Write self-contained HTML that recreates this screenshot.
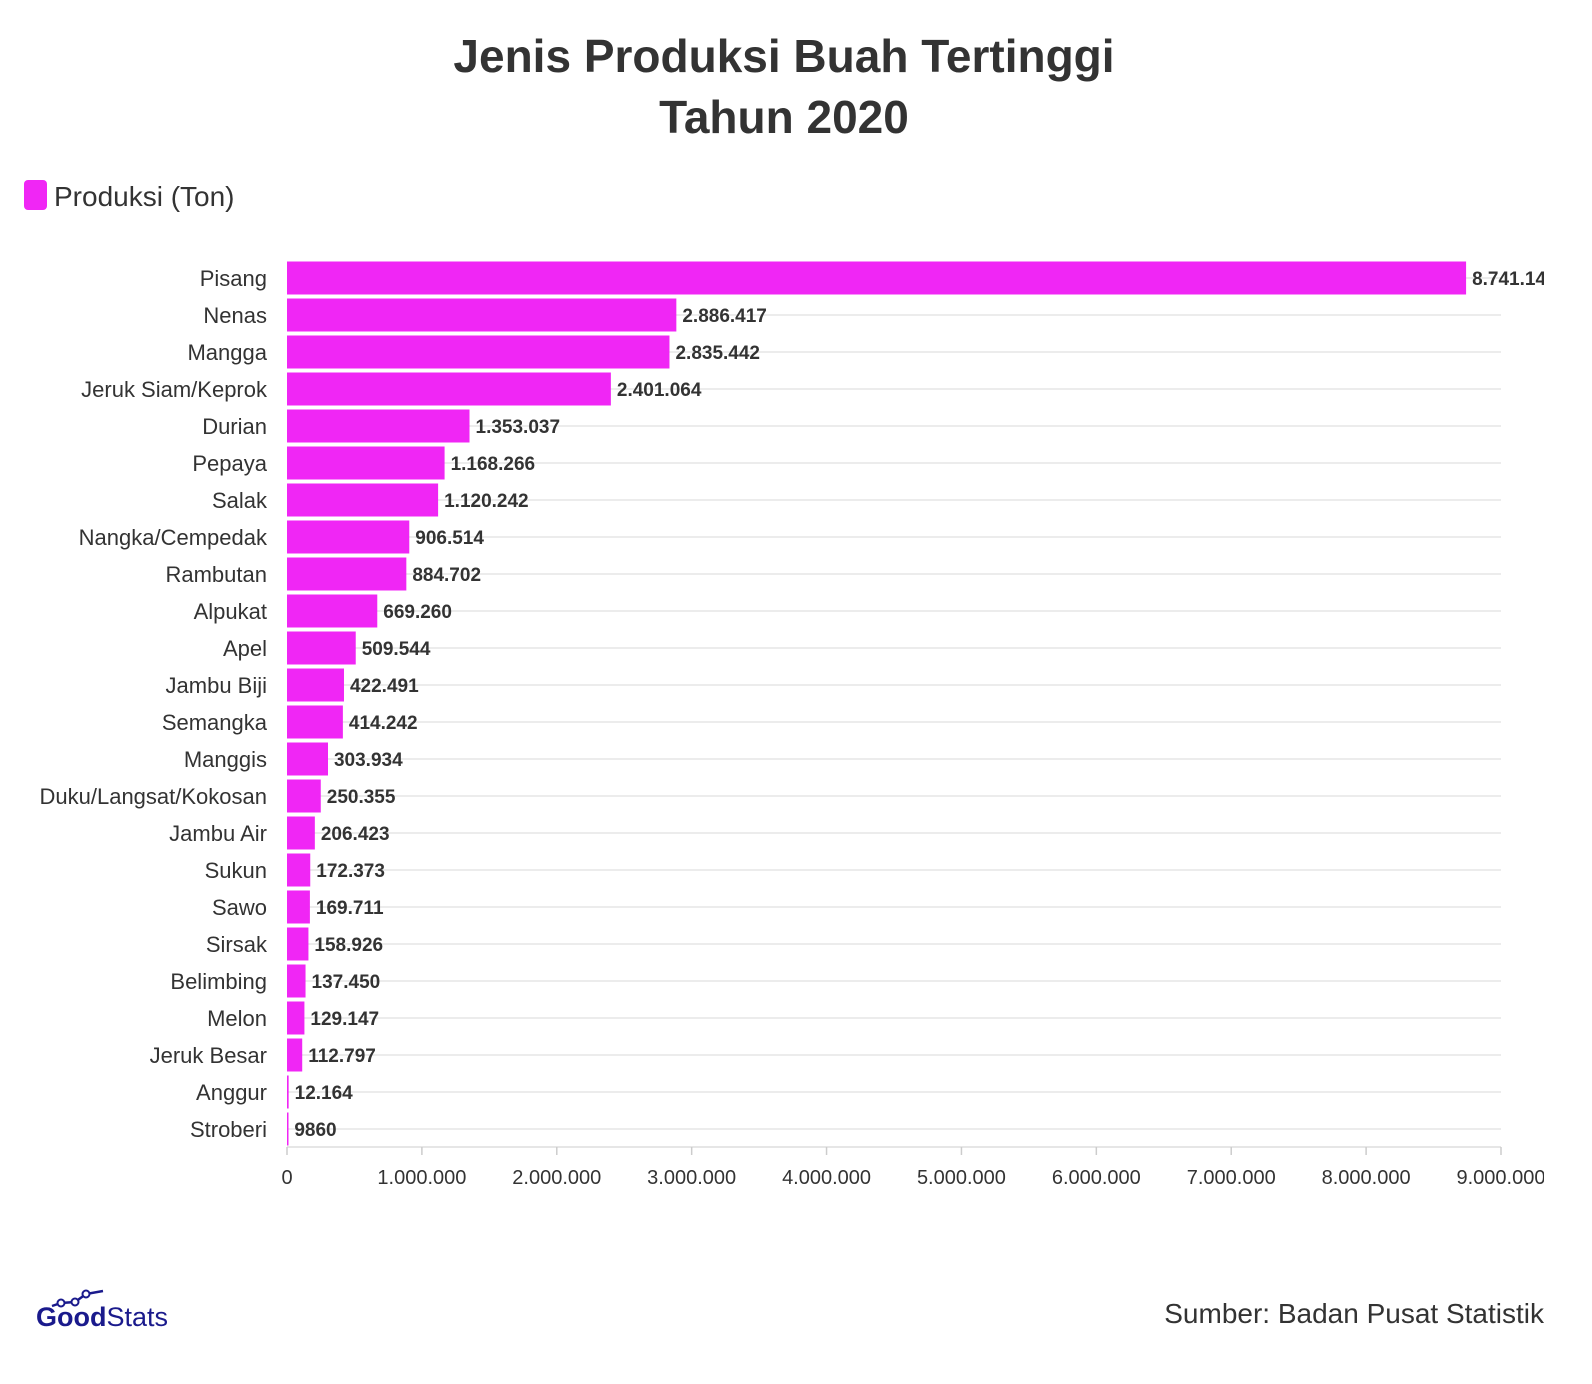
<!DOCTYPE html>
<html><head><meta charset="utf-8"><style>
body{margin:0;background:#fff;font-family:"Liberation Sans",sans-serif;}
#wrap{position:relative;width:1592px;height:1384px;overflow:hidden;}
#clip{position:absolute;left:0;top:0;width:1544px;height:1384px;overflow:hidden;}
</style></head><body>
<div id="wrap">
<div id="clip">
<svg id="svg" width="1592" height="1384" xmlns="http://www.w3.org/2000/svg">
<text x="784" y="72" text-anchor="middle" font-size="46" font-weight="bold" fill="#333">Jenis Produksi Buah Tertinggi</text>
<text x="784" y="133" text-anchor="middle" font-size="46" font-weight="bold" fill="#333">Tahun 2020</text>
<rect x="24" y="180" width="23" height="30" rx="4" fill="#f026f5"/>
<text x="54" y="206" font-size="28" fill="#333">Produksi (Ton)</text>
<g id="grid"></g><g id="bars"></g><g id="labels"></g><g id="ticks"></g>
<g>
<polyline points="52,1306 61,1303 75,1302 86,1294 103,1291" fill="none" stroke="#1a1a8c" stroke-width="2.5"/>
<circle cx="61" cy="1303" r="3.5" fill="#fff" stroke="#1a1a8c" stroke-width="2"/>
<circle cx="75" cy="1302" r="3.5" fill="#fff" stroke="#1a1a8c" stroke-width="2"/>
<circle cx="86" cy="1294" r="3.5" fill="#fff" stroke="#1a1a8c" stroke-width="2"/>
<text x="36" y="1326" font-size="27" font-weight="bold" fill="#1a1a8c">Good<tspan font-weight="normal">Stats</tspan></text>
</g>
<text x="1544" y="1323" text-anchor="end" font-size="28" fill="#333">Sumber: Badan Pusat Statistik</text>
</svg>
</div></div>
<script>
const categories=["Pisang","Nenas","Mangga","Jeruk Siam/Keprok","Durian","Pepaya","Salak","Nangka/Cempedak","Rambutan","Alpukat","Apel","Jambu Biji","Semangka","Manggis","Duku/Langsat/Kokosan","Jambu Air","Sukun","Sawo","Sirsak","Belimbing","Melon","Jeruk Besar","Anggur","Stroberi"];
const values=[8741147,2886417,2835442,2401064,1353037,1168266,1120242,906514,884702,669260,509544,422491,414242,303934,250355,206423,172373,169711,158926,137450,129147,112797,12164,9860];
const ticks=[0,1000000,2000000,3000000,4000000,5000000,6000000,7000000,8000000,9000000];
const NS="http://www.w3.org/2000/svg";
const x0=287,x1=1501,xmax=9000000,yTop=278,step=37,bh=33;
const xs=v=>x0+(x1-x0)*v/xmax;
const ys=i=>yTop+i*step;
const fmt=v=>v<10000?String(v):v.toLocaleString('de-DE');
function mk(t,a,p){const e=document.createElementNS(NS,t);for(const k in a)e.setAttribute(k,a[k]);document.getElementById(p).appendChild(e);return e;}
categories.forEach((c,i)=>{
 const g=mk('line',{x1:x0,x2:x1,y1:ys(i),y2:ys(i),stroke:'#e6e6e6','stroke-width':1.5},'grid');
 
 
 const b=mk('rect',{x:x0,y:ys(i)-bh/2,width:Math.max(1.5,xs(values[i])-x0),height:bh,fill:'#f026f5'},'bars');
 
 
 const l=mk('text',{x:x0-20,y:ys(i)+8,'text-anchor':'end','font-size':22,fill:'#333'},'labels');
 l.textContent=c;
 
 
 const v=mk('text',{x:Math.max(xs(values[i]),x0+1)+6,y:ys(i)+7,'font-size':19,'font-weight':'bold',fill:'#333'},'labels');
 v.textContent=fmt(values[i]);
 
 
});
const ax=mk('line',{x1:x0,x2:x1,y1:1147,y2:1147,stroke:'#ddd','stroke-width':1.5},'grid');


ticks.forEach(t=>{
 const tl=mk('line',{x1:xs(t),x2:xs(t),y1:1147,y2:1155,stroke:'#ccc','stroke-width':1.5},'ticks');
 
 
 const tt=mk('text',{x:xs(t),y:1184,'text-anchor':'middle','font-size':20,fill:'#333'},'ticks');
 tt.textContent=fmt(t);
 
 
});
</script>
</body></html>
